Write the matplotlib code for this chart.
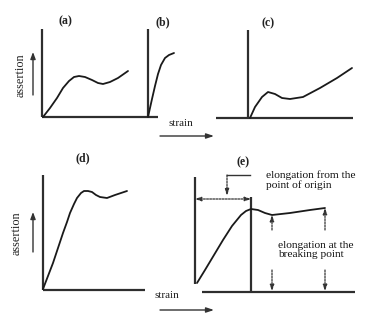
import matplotlib.pyplot as plt
from matplotlib.patches import Rectangle

plt.rcParams['font.family'] = ['Liberation Serif', 'DejaVu Serif']

# curve traces, in pixel coordinates of the sheet (y grows downwards)
curva_a_x = [43, 50, 57, 63, 69, 74, 79, 85, 92, 98, 103, 110, 118, 128]
curva_a_y = [117, 108, 98, 88, 81, 77, 76, 77, 80, 83, 84, 82, 78, 71]

curva_b_x = [148, 150, 152, 155, 158, 161, 165, 169, 174]
curva_b_y = [117, 108, 99, 86, 74, 65, 58, 55, 53]

curva_c_x = [250, 255, 262, 268, 275, 282, 290, 303, 320, 337, 352]
curva_c_y = [118, 107, 97, 92, 94, 98, 99, 97, 88, 78, 68]

curva_d_x = [43, 48, 53, 58, 63, 67, 70, 74, 77, 81, 84, 88, 92, 96, 100, 107, 115, 127]
curva_d_y = [289, 276, 263, 248, 233, 222, 213, 204, 198, 193, 191, 191, 192, 195, 197, 198, 195, 191]

curva_e_x = [197, 205, 214, 223, 232, 241, 246, 251, 258, 265, 272, 290, 310, 325]
curva_e_y = [283, 270, 255, 240, 226, 215, 211, 209, 210, 213, 215, 213, 210, 208]

rotulos = ['(a)', '(b)', '(c)', '(d)', '(e)']
rotulos_pos = [(65, 21), (163, 22), (268, 23), (83, 158), (243, 162)]

eixo_y = 'assertion'
eixo_x = 'strain'
texto_origem = 'elongation from the\npoint of origin'
texto_ruptura = 'elongation at the\nbreaking point'

fig = plt.figure(figsize=(3.77, 3.27), dpi=100)
ax = fig.add_axes([0, 0, 1, 1])
ax.set_xlim(0, 377)
ax.set_ylim(327, 0)
ax.axis('off')

cor_eixo = '#2e2e2e'
lw_eixo = 1.6
lw_curva = 1.3

# eixos
eixos = [
    ([42, 42], [29, 117]),      # (a) vertical
    ([42, 158], [117, 117]),    # (a)+(b) horizontal
    ([148, 148], [29, 117]),    # (b) vertical
    ([248, 248], [30, 118]),    # (c) vertical
    ([216, 353], [118, 118]),   # (c) horizontal
    ([43, 43], [175, 290]),     # (d) vertical
    ([43, 145], [290, 290]),    # (d) horizontal
    ([195, 195], [177, 284]),   # (e) vertical
    ([202, 355], [292, 292]),   # (e) horizontal
    ([251, 251], [197, 292]),   # (e) marca do pico
]
for xs, ys in eixos:
    ax.plot(xs, ys, color=cor_eixo, lw=lw_eixo, solid_capstyle='butt')

# curvas
for xs, ys in [(curva_a_x, curva_a_y), (curva_b_x, curva_b_y), (curva_c_x, curva_c_y),
               (curva_d_x, curva_d_y), (curva_e_x, curva_e_y)]:
    ax.plot(xs, ys, color='#1a1a1a', lw=lw_curva, solid_capstyle='round')

for r, (x, y) in zip(rotulos, rotulos_pos):
    ax.text(x, y, r, ha='center', va='center', fontsize=8.5, fontweight='bold', color='#222')

# legendas dos eixos e setas
for (tx, ty), (sx, s0, s1) in [((21, 75), (33, 95, 52)), ((17, 233), (33, 252, 212))]:
    ax.text(tx, ty, eixo_y, rotation=90, ha='center', va='center', fontsize=8.8, color='#222')
    ax.annotate('', xy=(sx, s1), xytext=(sx, s0),
                arrowprops=dict(arrowstyle='-|>,head_length=0.4,head_width=0.15',
                                color='#333', lw=1.0, shrinkA=0, shrinkB=0))

for (tx, ty), (a0, a1, ay) in [((181, 123), (160, 214, 136)), ((167, 296), (160, 214, 310))]:
    ax.text(tx, ty, eixo_x, ha='center', va='center', fontsize=8, color='#222')
    ax.annotate('', xy=(a1, ay), xytext=(a0, ay),
                arrowprops=dict(arrowstyle='-|>,head_length=0.45,head_width=0.15',
                                color='#333', lw=1.0, shrinkA=0, shrinkB=0))

# cotas pontilhadas do painel (e)
pont = dict(color='#333', lw=0.9, linestyle=(0, (1.5, 1)), shrinkA=0, shrinkB=0)
ax.annotate('', xy=(195, 199), xytext=(251, 199), arrowprops=dict(arrowstyle='<|-|>,head_length=0.35,head_width=0.12', **pont))
ax.plot([227, 250], [175, 175], color='#333', lw=1.0)
ax.annotate('', xy=(227, 196), xytext=(227, 175), arrowprops=dict(arrowstyle='-|>,head_length=0.4,head_width=0.12', **pont))

for x, ytop in [(272, 215), (325, 208)]:
    ax.annotate('', xy=(x, ytop), xytext=(x, 230), arrowprops=dict(arrowstyle='-|>,head_length=0.35,head_width=0.12', **pont))
    ax.annotate('', xy=(x, 291), xytext=(x, 270), arrowprops=dict(arrowstyle='-|>,head_length=0.35,head_width=0.12', **pont))

ax.text(266, 180, texto_origem, ha='left', va='center', fontsize=8.2, linespacing=1.05, color='#111')
ax.text(278, 250, texto_ruptura, ha='left', va='center', fontsize=8.2, linespacing=1.05, color='#111')
# a faixa branca corta a base da segunda linha do texto
ax.add_patch(Rectangle((276, 261.5), 90, 6, facecolor='white', edgecolor='none', zorder=5))

fig.savefig('out.png', dpi=100)
